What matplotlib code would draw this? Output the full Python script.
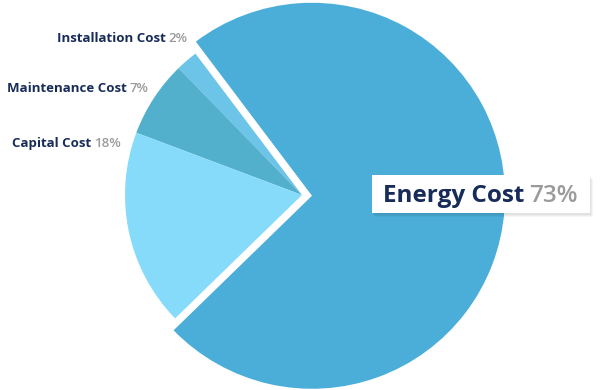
import matplotlib
matplotlib.use('Agg')
import matplotlib.pyplot as plt
from matplotlib.patches import Rectangle

# data
labels = ['Installation Cost', 'Maintenance Cost', 'Capital Cost', 'Energy Cost']
shares = [2, 7, 18, 73]
colors = ['#6cc4e9', '#52b0cc', '#86dbfa', '#4baed9']

navy = '#182c5a'
grey = '#9a9a9a'
font = 'Open Sans'

fig = plt.figure(figsize=(6.0, 3.9), dpi=100)
ax = fig.add_axes([0, 0, 1, 1])

# pie (pixel coordinates, y up); explode is in data units here
cx, cy, r = 302, 195, 177
wedges, _ = ax.pie(shares, colors=colors, startangle=127, counterclock=True,
                   center=(cx, cy), radius=r, explode=[0, 0, 0, 10],
                   wedgeprops=dict(linewidth=0), frame=True)
# energy slice is drawn larger than the rest
wedges[3].set_radius(193)
ax.set_xlim(0, 600)
ax.set_ylim(0, 390)
ax.set_aspect('equal')
ax.axis('off')

fig.canvas.draw()
rend = fig.canvas.get_renderer()
inv = ax.transData.inverted()


def two_tone(x, y, name, pct, size):
    t = ax.text(x, y, name, color=navy, fontsize=size, fontweight='bold',
                family=font, ha='left', va='baseline')
    bb = t.get_window_extent(renderer=rend)
    x2 = inv.transform((bb.x1, 0))[0] + size * 0.3
    t2 = ax.text(x2, y, pct, color=grey, fontsize=size, fontweight='semibold',
                 family=font, ha='left', va='baseline')
    return t, t2


# small slice labels (baseline positions)
two_tone(57, 390 - 42, labels[0], '%d%%' % shares[0], 9.5)
two_tone(7, 390 - 92, labels[1], '%d%%' % shares[1], 9.5)
two_tone(12, 390 - 147, labels[2], '%d%%' % shares[2], 9.5)

# energy cost callout box with soft shadow
for k in range(3):
    ax.add_patch(Rectangle((373 + k, 390 - 215 - k), 218, 38,
                           facecolor='black', alpha=0.04, linewidth=0, zorder=3))
ax.add_patch(Rectangle((372, 390 - 213), 218, 38, facecolor='white',
                       linewidth=0, zorder=4))
t, t2 = two_tone(383, 390 - 202, labels[3], '%d%%' % shares[3], 17.5)
t.set_zorder(5)
t2.set_zorder(5)

fig.savefig('out.png', dpi=100)
